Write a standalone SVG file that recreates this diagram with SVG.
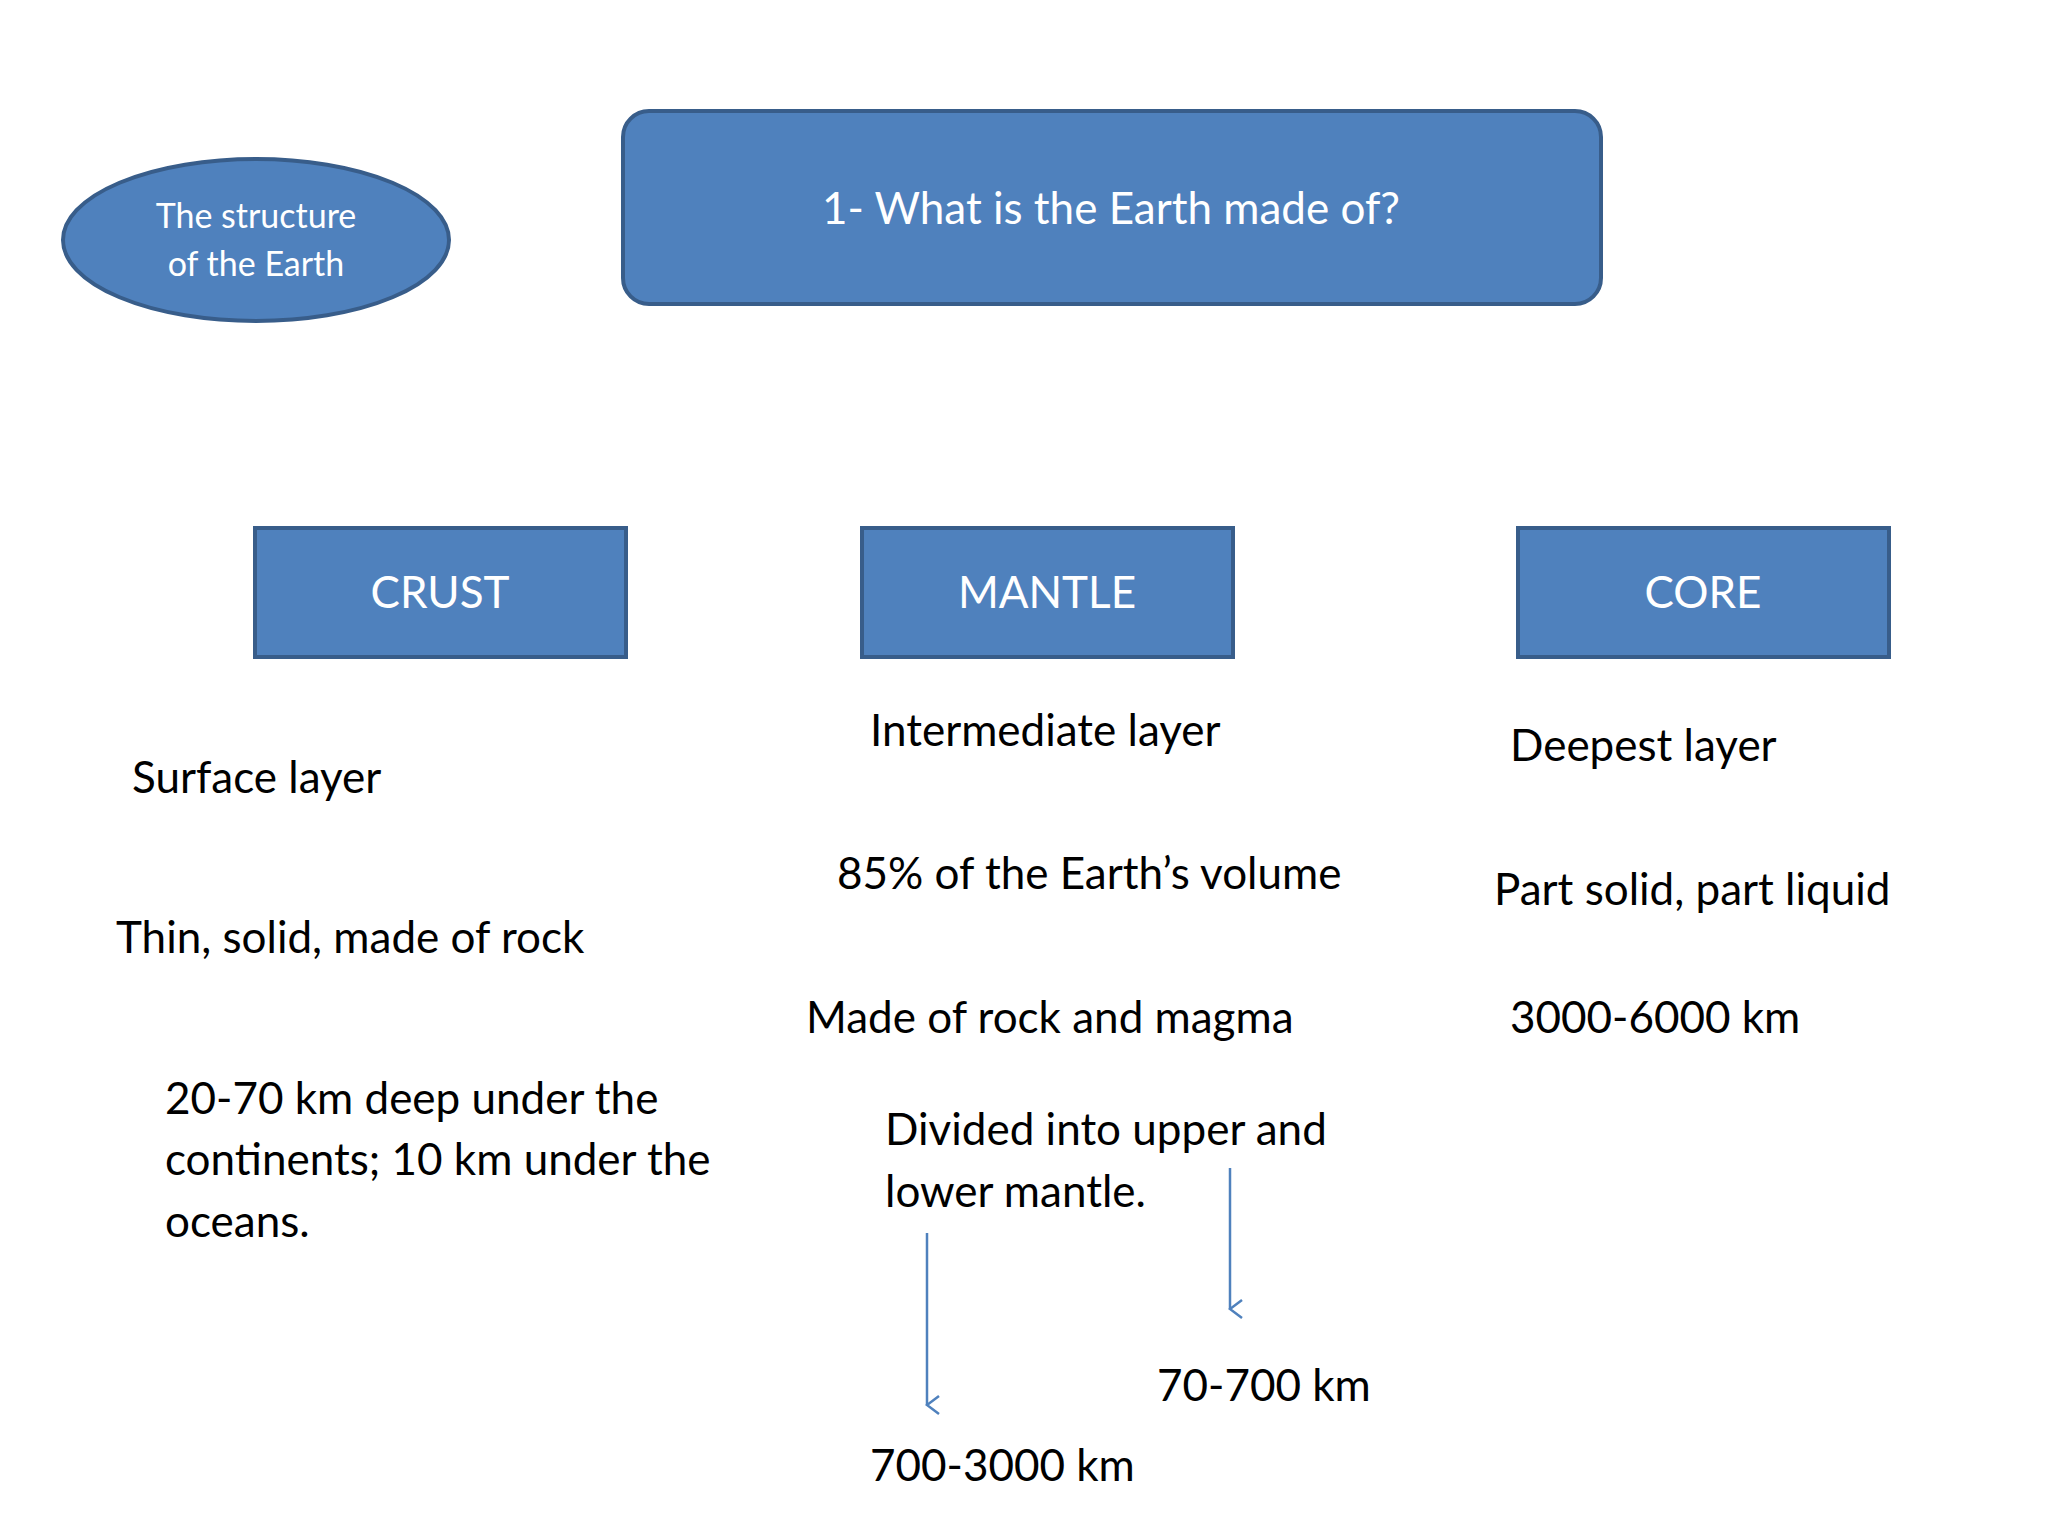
<svg xmlns="http://www.w3.org/2000/svg" width="2048" height="1536" viewBox="0 0 2048 1536">
<defs>
<style>
.n{fill:#4F81BD;stroke:#385D8A;stroke-width:4}
.w{fill:#fff;font-family:Lato,"Open Sans",sans-serif;text-anchor:middle}
.t{fill:#000;font-family:Lato,"Open Sans",sans-serif;font-size:44px}
.c{stroke:#4F81BD;stroke-width:2.5;fill:none}
</style>
<marker id="a" viewBox="0 0 20 20" refX="10" refY="18" markerWidth="20" markerHeight="20" markerUnits="userSpaceOnUse" orient="auto-start-reverse">
<path d="M1 6 L10 18 L19 6" fill="none" stroke="#4F81BD" stroke-width="2.5"/>
</marker>
</defs>
<rect width="2048" height="1536" fill="#fff"/>
<g id="ellipse"><ellipse class="n" cx="256" cy="240" rx="193" ry="81"/>
<text class="w" x="256" y="228" font-size="34">The structure</text>
<text class="w" x="256" y="276" font-size="34">of the Earth</text></g>
<g id="title"><rect class="n" x="623" y="111" width="978" height="193" rx="26"/>
<text class="w" x="1111" y="224" font-size="44">1- What is the Earth made of?</text></g>
<g id="crust"><rect class="n" x="255" y="528" width="371" height="129"/>
<text class="w" x="440" y="608" font-size="44">CRUST</text></g>
<g id="mantle"><rect class="n" x="862" y="528" width="371" height="129"/>
<text class="w" x="1047" y="608" font-size="44">MANTLE</text></g>
<g id="core"><rect class="n" x="1518" y="528" width="371" height="129"/>
<text class="w" x="1703" y="608" font-size="44">CORE</text></g>
<g id="texts">
<text class="t" x="132" y="793">Surface layer</text>
<text class="t" x="116" y="953">Thin, solid, made of rock</text>
<text class="t" x="165" y="1114">20-70 km deep under the</text>
<text class="t" x="165" y="1175">continents; 10 km under the</text>
<text class="t" x="165" y="1237">oceans.</text>
<text class="t" x="870" y="746">Intermediate layer</text>
<text class="t" x="837" y="889">85% of the Earth’s volume</text>
<text class="t" x="806" y="1033">Made of rock and magma</text>
<text class="t" x="885" y="1145">Divided into upper and</text>
<text class="t" x="885" y="1207">lower mantle.</text>
<text class="t" x="1157" y="1401">70-700 km</text>
<text class="t" x="870" y="1481">700-3000 km</text>
<text class="t" x="1510" y="761">Deepest layer</text>
<text class="t" x="1494" y="905">Part solid, part liquid</text>
<text class="t" x="1510" y="1033">3000-6000 km</text>
</g>
<g id="connectors">
<line class="c" x1="927" y1="1233" x2="927" y2="1405" marker-end="url(#a)"/>
<line class="c" x1="1230" y1="1168" x2="1230" y2="1309" marker-end="url(#a)"/>
</g>
</svg>
